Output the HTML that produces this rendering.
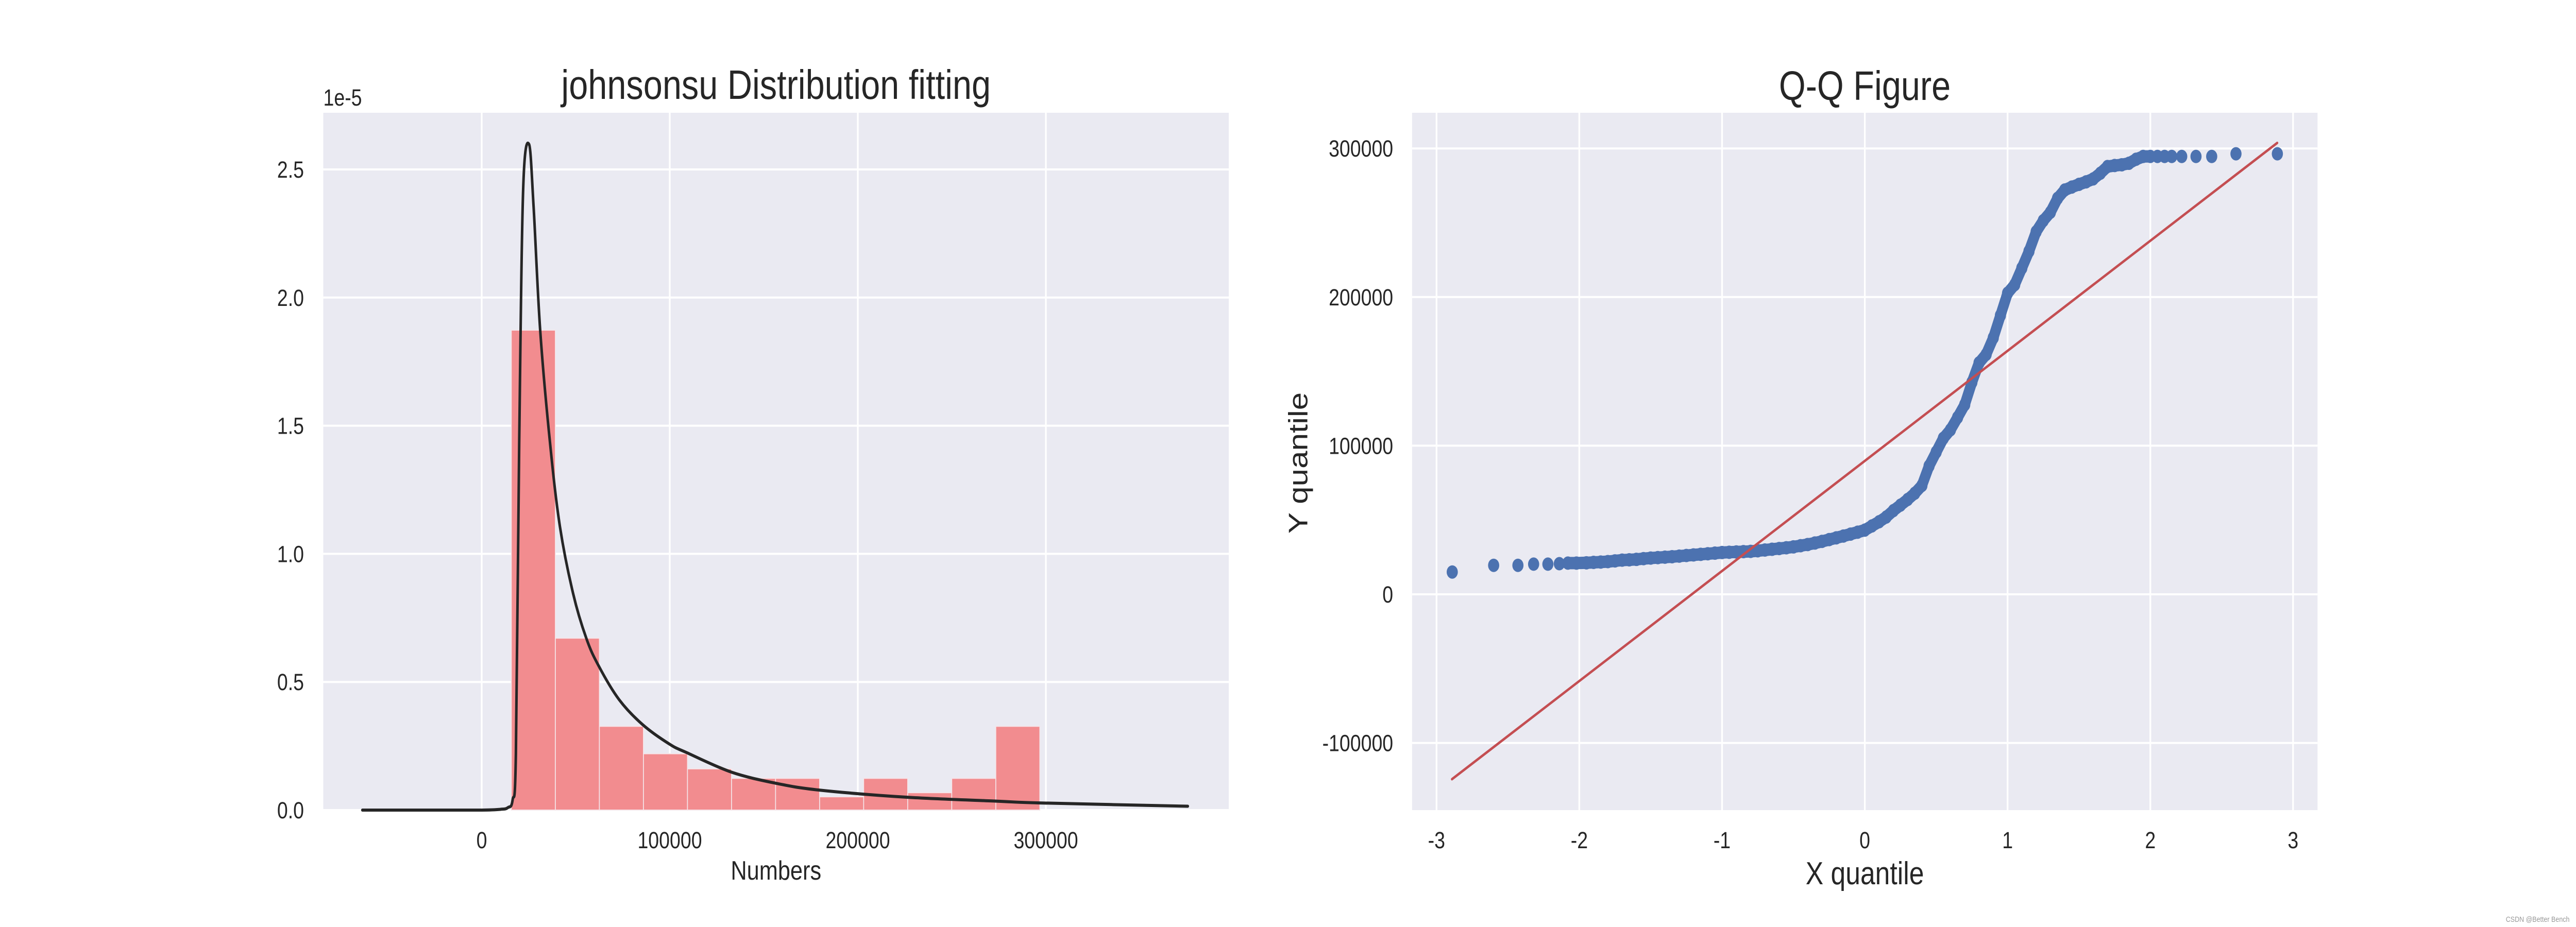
<!DOCTYPE html>
<html><head><meta charset="utf-8">
<style>
html,body{margin:0;padding:0;background:#fff;width:100%;height:100%;overflow:hidden;}
svg{display:block;width:100%;height:100%;font-family:"Liberation Sans",Arial,sans-serif;}
</style></head>
<body>
<svg id="fig" viewBox="0 0 6000 1800" preserveAspectRatio="none" xmlns="http://www.w3.org/2000/svg">
<rect x="0" y="0" width="6000" height="1800" fill="#ffffff"/>
<g id="left"></g>
<g id="right"></g>
<text x="5985" y="1790" font-size="15" fill="#999" text-anchor="end">CSDN @Better Bench</text>
</svg>
<script>
// ---------- Left chart data ----------
const binStart = 15730;
const binWidth = 23422;
const binHeights = [1.873, 0.671, 0.327, 0.220, 0.161, 0.124, 0.124, 0.052, 0.124, 0.068, 0.124, 0.327];
const curveX = [-63470, -30000, 0, 10000, 13984, 16431, 18179, 19927, 22025, 25171, 27618, 31114, 36358, 41602, 48594, 55586, 62229, 73066, 85652, 99986, 109075, 132848, 156271, 179694, 226541, 273738, 296810, 375470];
const curveY = [0, 0, 0, 0.003, 0.01, 0.04, 0.22, 1.43, 2.42, 2.598, 2.35, 1.87, 1.43, 1.106, 0.845, 0.671, 0.562, 0.431, 0.333, 0.257, 0.224, 0.148, 0.105, 0.078, 0.05, 0.035, 0.028, 0.015];
const leftXTicks = [0, 100000, 200000, 300000];
const leftYTicks = [0, 0.5, 1.0, 1.5, 2.0, 2.5];
const leftYTickLabels = ["0.0", "0.5", "1.0", "1.5", "2.0", "2.5"];

// ---------- Right chart data ----------
const qqX = [-2.89, -2.60, -2.43, -2.32, -2.22, -2.14, -2.08, -2.02, -1.95, -1.9, -1.85, -1.8, -1.75, -1.7, -1.65, -1.6, -1.55, -1.5, -1.45, -1.4, -1.35, -1.3, -1.25, -1.2, -1.15, -1.1, -1.05, -1.0, -0.95, -0.9, -0.85, -0.8, -0.75, -0.7, -0.65, -0.6, -0.55, -0.5, -0.45, -0.4, -0.35, -0.3, -0.25, -0.2, -0.15, -0.1, -0.05, 0, 0.05, 0.1, 0.15, 0.2, 0.25, 0.3, 0.35, 0.4, 0.45, 0.5, 0.55, 0.6, 0.65, 0.7, 0.75, 0.8, 0.85, 0.9, 0.95, 1.0, 1.05, 1.1, 1.15, 1.2, 1.25, 1.3, 1.35, 1.4, 1.45, 1.5, 1.55, 1.6, 1.65, 1.7, 1.75, 1.8, 1.85, 1.9, 1.95, 2.0, 2.05, 2.1, 2.15, 2.22, 2.32, 2.43, 2.6, 2.89];
const qqY = [15000, 19500, 19500, 20300, 20300, 20600, 21000, 21000, 21200, 21500, 21700, 22000, 22500, 23000, 23200, 23500, 24000, 24400, 24700, 25000, 25300, 25700, 26100, 26500, 26900, 27300, 27700, 28100, 28300, 28500, 28700, 28900, 29300, 29800, 30300, 30800, 31300, 31900, 32700, 33500, 34500, 35600, 36800, 38000, 39200, 40500, 41800, 43200, 46000, 48800, 52000, 56300, 60000, 63800, 68000, 73200, 86300, 95700, 105000, 110700, 119000, 127600, 142600, 155700, 161400, 172600, 187600, 202600, 208300, 219500, 230800, 243900, 251400, 257000, 266400, 272000, 274000, 275800, 277500, 279500, 283300, 287800, 288500, 289000, 290000, 292700, 294600, 294600, 294600, 294600, 294600, 294600, 294600, 294600, 296400, 296400];
const fitLineX = [-2.892, 2.889];
const fitLineY = [-124400, 303700];
const rightXTicks = [-3, -2, -1, 0, 1, 2, 3];
const rightYTicks = [-100000, 0, 100000, 200000, 300000];

const NS = "http://www.w3.org/2000/svg";
function mk(parent, tag, attrs, text) {
  const e = document.createElementNS(NS, tag);
  for (const k in attrs) e.setAttribute(k, attrs[k]);
  if (text !== undefined) e.textContent = text;
  parent.appendChild(e);
  return e;
}
function smoothPath(P) {
  let d = 'M' + P[0][0].toFixed(1) + ',' + P[0][1].toFixed(1);
  for (let i = 0; i < P.length - 1; i++) {
    const p0 = P[Math.max(0, i - 1)], p1 = P[i], p2 = P[i + 1], p3 = P[Math.min(P.length - 1, i + 2)];
    const t = 0.5 / 3;
    const c1 = [p1[0] + (p2[0] - p0[0]) * t, p1[1] + (p2[1] - p0[1]) * t];
    const c2 = [p2[0] - (p3[0] - p1[0]) * t, p2[1] - (p3[1] - p1[1]) * t];
    d += ' C' + c1[0].toFixed(1) + ',' + c1[1].toFixed(1) + ' ' + c2[0].toFixed(1) + ',' + c2[1].toFixed(1) + ' ' + p2[0].toFixed(1) + ',' + p2[1].toFixed(1);
  }
  return d;
}

// ---------- Left chart ----------
(function(){
  const g = document.getElementById('left');
  const L = 753, R = 2862, T = 219, B = 1573;
  const xmin = -84250, xmax = (R - 1122) / 438 * 1e5;
  const ymin = 0, ymax = (B - T) / 497.6;
  const sx = v => L + (v - xmin) / (xmax - xmin) * (R - L);
  const sy = v => B - (v - ymin) / (ymax - ymin) * (B - T);

  const bg = mk(g, 'rect', {x: L, y: T, width: R - L, height: B - T, fill: '#EAEAF2'});
  
  

  leftXTicks.forEach(t => {
    const ln = mk(g, 'line', {x1: sx(t), x2: sx(t), y1: T, y2: B, stroke: '#fff', 'stroke-width': 4});
    
    
    const tx = mk(g, 'text', {x: sx(t), y: 1647, 'font-size': 45, fill: '#262626', 'text-anchor': 'middle'}, String(t));
    
    
  });
  leftYTicks.forEach((t, i) => {
    const ln = mk(g, 'line', {x1: L, x2: R, y1: sy(t), y2: sy(t), stroke: '#fff', 'stroke-width': 4});
    
    
    const tx = mk(g, 'text', {x: 708, y: sy(t) + 16, 'font-size': 45, fill: '#262626', 'text-anchor': 'end'}, leftYTickLabels[i]);
    
    
  });

  binHeights.forEach((h, i) => {
    const x0 = binStart + i * binWidth;
    const r = mk(g, 'rect', {x: sx(x0), y: sy(h), width: sx(x0 + binWidth) - sx(x0), height: sy(0) - sy(h), fill: '#F28C8F', stroke: '#F5E6EA', 'stroke-width': 2});
    
    
  });

  const P = curveX.map((x, i) => [sx(x), sy(curveY[i])]);
  const pl = mk(g, 'path', {d: smoothPath(P), fill: 'none', stroke: '#262626', 'stroke-width': 6, 'stroke-linejoin': 'round', 'stroke-linecap': 'round'});
  
  

  const t1 = mk(g, 'text', {x: (L + R) / 2, y: 192, 'font-size': 80, fill: '#262626', 'text-anchor': 'middle'}, 'johnsonsu Distribution fitting');
  
  
  const t2 = mk(g, 'text', {x: L, y: 205, 'font-size': 45, fill: '#262626'}, '1e-5');
  
  
  const t3 = mk(g, 'text', {x: (L + R) / 2, y: 1708, 'font-size': 52, fill: '#262626', 'text-anchor': 'middle'}, 'Numbers');
  
  
})();

// ---------- Right chart ----------
(function(){
  const g = document.getElementById('right');
  const L = 3289, R = 5398, T = 219, B = 1573;
  const xmin = -3 - (3346 - L) / 332.5, xmax = 3 + (R - 5341) / 332.5;
  const ymin = -(B - 1154) / 288.6 * 1e5, ymax = (1154 - T) / 288.6 * 1e5;
  const sx = v => L + (v - xmin) / (xmax - xmin) * (R - L);
  const sy = v => B - (v - ymin) / (ymax - ymin) * (B - T);

  const bg = mk(g, 'rect', {x: L, y: T, width: R - L, height: B - T, fill: '#EAEAF2'});
  
  

  rightXTicks.forEach(t => {
    const ln = mk(g, 'line', {x1: sx(t), x2: sx(t), y1: T, y2: B, stroke: '#fff', 'stroke-width': 4});
    
    
    const tx = mk(g, 'text', {x: sx(t), y: 1647, 'font-size': 45, fill: '#262626', 'text-anchor': 'middle'}, String(t));
    
    
  });
  rightYTicks.forEach(t => {
    const ln = mk(g, 'line', {x1: L, x2: R, y1: sy(t), y2: sy(t), stroke: '#fff', 'stroke-width': 4});
    
    
    const tx = mk(g, 'text', {x: 3245, y: sy(t) + 16, 'font-size': 45, fill: '#262626', 'text-anchor': 'end'}, String(t));
    
    
  });

  const bandIdx = qqX.map((x, i) => i).filter(i => qqX[i] >= -2.1 && qqX[i] <= 2.0);
  const bandPts = bandIdx.map(i => sx(qqX[i]).toFixed(1) + ',' + sy(qqY[i]).toFixed(1)).join(' ');
  const band = mk(g, 'polyline', {points: bandPts, fill: 'none', stroke: '#4C72B0', 'stroke-width': 24, 'stroke-linejoin': 'round', 'stroke-linecap': 'round'});
  
  

  qqX.forEach((x, i) => {
    const c = mk(g, 'ellipse', {cx: sx(x), cy: sy(qqY[i]), rx: 13, ry: 13, fill: '#4C72B0'});
    
    
  });

  const fl = mk(g, 'line', {x1: sx(fitLineX[0]), y1: sy(fitLineY[0]), x2: sx(fitLineX[1]), y2: sy(fitLineY[1]), stroke: '#C44E52', 'stroke-width': 5, 'stroke-linecap': 'round'});
  
  

  const t1 = mk(g, 'text', {x: (L + R) / 2, y: 194, 'font-size': 80, fill: '#262626', 'text-anchor': 'middle'}, 'Q-Q Figure');
  
  
  const t2 = mk(g, 'text', {x: (L + R) / 2, y: 1717, 'font-size': 62, fill: '#262626', 'text-anchor': 'middle'}, 'X quantile');
  
  
  const t3 = mk(g, 'text', {x: 3045, y: 899, 'font-size': 62, fill: '#262626', 'text-anchor': 'middle', transform: 'rotate(-90 3045 899)'}, 'Y quantile');
  
  
})();
</script>
</body></html>
